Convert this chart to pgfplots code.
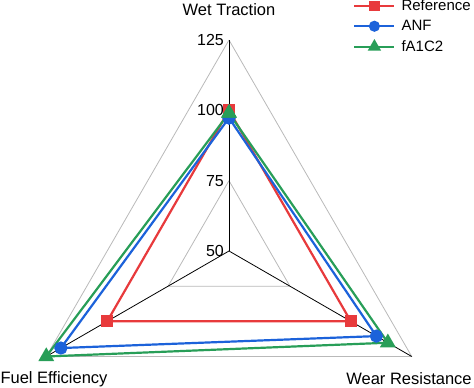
\documentclass[border=0pt]{standalone}
\usepackage{fontspec}
\setmainfont{Liberation Sans}
\usepackage{pgfplots}
\pgfplotsset{compat=1.18}
\usepgfplotslibrary{polar}
\definecolor{cref}{RGB}{232,58,60}
\definecolor{canf}{RGB}{28,98,218}
\definecolor{cfa}{RGB}{40,158,88}
\definecolor{cgrid}{RGB}{185,185,185}
\begin{document}
\begin{tikzpicture}
\begin{polaraxis}[
  scale only axis, width=422pt, height=422pt,
  ymin=50, ymax=125,
  y coord trafo/.code={\pgfmathparse{#1-50}},
  y coord inv trafo/.code={\pgfmathparse{#1+50}},
  hide axis, clip=false,
  legend style={draw=none, fill=none, at={(0.787,1.106)}, anchor=north west,
    font=\fontsize{15}{18}\selectfont, row sep=4.5pt,
    cells={anchor=west},
    /tikz/every odd column/.append style={column sep=4pt}},
  legend cell align=left,
  legend image code/.code={%
    \draw[mark repeat=2,mark phase=2, every mark/.append style={scale=0.8}] plot coordinates {(0pt,0pt) (20pt,0pt) (40pt,0pt)};},
]
% grid triangles
\addplot[cgrid, line width=0.8pt, forget plot] coordinates {(90,75) (210,75) (330,75) (90,75)};
\addplot[cgrid, line width=0.8pt, forget plot] coordinates {(90,100) (210,100) (330,100) (90,100)};
\addplot[cgrid, line width=0.8pt, forget plot] coordinates {(90,125) (210,125) (330,125) (90,125)};
% spokes
\addplot[black, line width=0.8pt, forget plot] coordinates {(90,50) (90,125)};
\addplot[black, line width=0.8pt, forget plot] coordinates {(210,50) (210,125)};
\addplot[black, line width=0.8pt, forget plot] coordinates {(330,50) (330,125)};
% series
\addplot[cref, line width=2.2pt, mark=square*, mark size=5pt, mark options={solid}]
  coordinates {(90,100) (210,100) (330,100) (90,100)};
\addlegendentry{Reference}
\addplot[canf, line width=2.2pt, mark=*, mark size=5.5pt, mark options={solid}]
  coordinates {(90,97.3) (210,119) (330,110.5) (90,97.3)};
\addlegendentry{ANF}
\addplot[cfa, line width=2.2pt, mark=triangle*, mark size=7pt, mark options={solid}]
  coordinates {(90,99) (210,125) (330,115.2) (90,99)};
\addlegendentry{fA1C2}
\coordinate (c) at (axis cs:0,50);
\end{polaraxis}
\begin{scope}[font=\fontsize{16}{19}\selectfont]
\node[anchor=east, inner sep=0pt] at ([xshift=-5pt]c) {50};
\node[anchor=east, inner sep=0pt] at ([shift={(-5pt,70.3pt)}]c) {75};
\node[anchor=east, inner sep=0pt] at ([shift={(-5pt,140.7pt)}]c) {100};
\node[anchor=east, inner sep=0pt] at ([shift={(-5pt,211pt)}]c) {125};
\end{scope}
\begin{scope}[font=\fontsize{16.5}{19}\selectfont]
\node at ([shift={(0pt,241pt)}]c) {Wet Traction};
\node at ([shift={(-175pt,-128pt)}]c) {Fuel Efficiency};
\node at ([shift={(180pt,-128pt)}]c) {Wear Resistance};
\end{scope}
\pgfresetboundingbox
\path[use as bounding box] ([shift={(-229pt,-137pt)}]c) rectangle ([shift={(245pt,251pt)}]c);
\end{tikzpicture}
\end{document}
